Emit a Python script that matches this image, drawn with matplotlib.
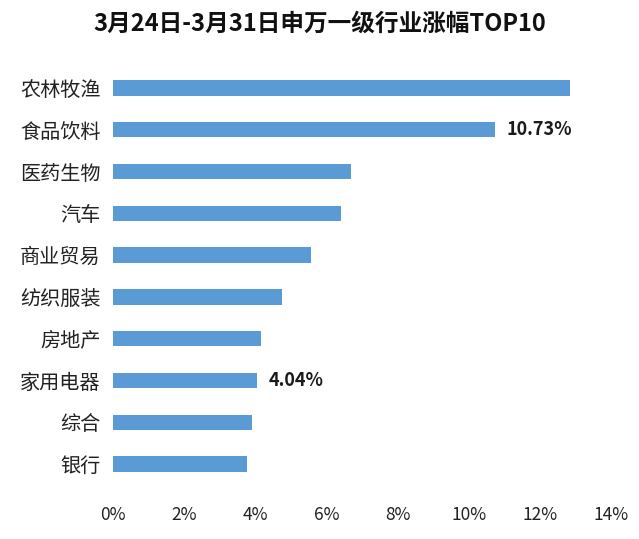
import numpy as np
import matplotlib.pyplot as plt
from matplotlib.ticker import FuncFormatter

plt.rcParams['font.family'] = ['Noto Sans CJK SC', 'DejaVu Sans']

title = "3月24日-3月31日申万一级行业涨幅TOP10"
industries = ["农林牧渔", "食品饮料", "医药生物", "汽车", "商业贸易",
              "纺织服装", "房地产", "家用电器", "综合", "银行"]
gains = [12.86, 10.73, 6.68, 6.40, 5.58, 4.76, 4.15, 4.04, 3.91, 3.76]
labelled = {"食品饮料": "10.73%", "家用电器": "4.04%"}
xticks = [0, 2, 4, 6, 8, 10, 12, 14]

fig = plt.figure(figsize=(6.39, 5.39), dpi=100)
ax = fig.add_axes([113 / 639, 1 - 485 / 539, 498 / 639, 418 / 539])

y = np.arange(len(industries))
ax.barh(y, gains, height=0.37, color="#5B9BD5")

for i, name in enumerate(industries):
    if name in labelled:
        ax.text(gains[i] + 0.33, i, labelled[name], va="center", ha="left",
                fontsize=13, fontweight="bold", color="#1a1a1a")

ax.set_xlim(0, 14)
ax.set_ylim(len(industries) - 0.5, -0.5)
ax.set_yticks(y)
ax.set_yticklabels(industries, fontsize=14.5, color="#222222")
ax.set_xticks(xticks)
ax.xaxis.set_major_formatter(FuncFormatter(lambda v, p: f"{v:.0f}%"))
ax.tick_params(axis="x", labelsize=12.5, colors="#222222", length=0, pad=15)
ax.tick_params(axis="y", length=0, pad=9)
for s in ax.spines.values():
    s.set_visible(False)

fig.text(0.5, 1 - 24 / 539, title, ha="center", va="center",
         fontsize=17, fontweight="bold", color="#111111")

fig.savefig("out.png", dpi=100, facecolor="white")
